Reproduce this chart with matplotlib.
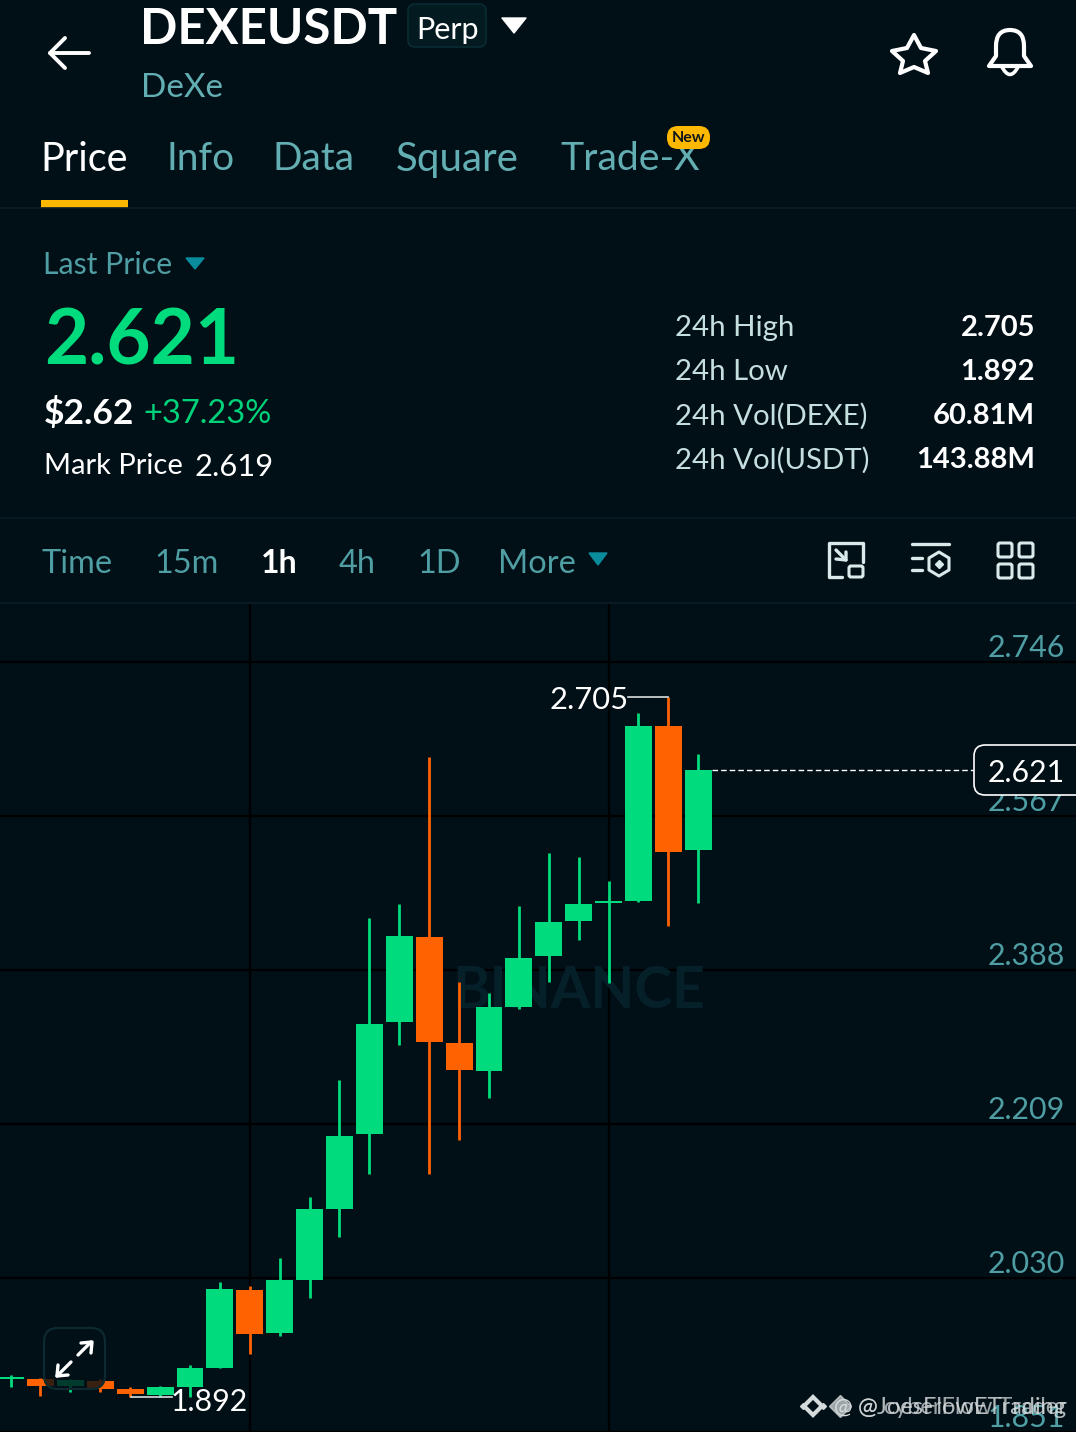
import matplotlib
matplotlib.use("Agg")
import matplotlib.pyplot as plt
from matplotlib.patches import FancyBboxPatch, Rectangle, Polygon
from matplotlib.path import Path
from matplotlib.patches import PathPatch

opens = [1.913, 1.913, 1.905, 1.910, 1.901, 1.894, 1.903, 1.925, 2.016, 1.966, 2.028, 2.110,
         2.197, 2.328, 2.426, 2.303, 2.271, 2.345, 2.404, 2.445, 2.466, 2.468, 2.672, 2.527]
closes = [1.915, 1.905, 1.912, 1.901, 1.895, 1.903, 1.925, 2.017, 1.965, 2.028, 2.110, 2.195,
          2.325, 2.428, 2.304, 2.272, 2.345, 2.402, 2.444, 2.465, 2.468, 2.672, 2.525, 2.621]
highs = [1.917, 1.914, 1.913, 1.913, 1.903, 1.904, 1.929, 2.025, 2.021, 2.053, 2.124, 2.260,
         2.448, 2.465, 2.636, 2.374, 2.361, 2.462, 2.524, 2.519, 2.491, 2.687, 2.705, 2.639]
lows = [1.903, 1.893, 1.898, 1.898, 1.892, 1.892, 1.892, 1.925, 1.942, 1.963, 2.007, 2.078,
        2.151, 2.301, 2.151, 2.190, 2.239, 2.343, 2.374, 2.423, 2.373, 2.467, 2.439, 2.466]
price_ticks = [2.746, 2.567, 2.388, 2.209, 2.030, 1.851]
time_grid = [8, 20]
last_price = 2.621
high_price = 2.705
low_price = 1.892
stats_labels = ["24h High", "24h Low", "24h Vol(DEXE)", "24h Vol(USDT)"]
stats_values = ["2.705", "1.892", "60.81M", "143.88M"]
tabs = ["Price", "Info", "Data", "Square", "Trade-X"]
intervals = ["Time", "15m", "1h", "4h", "1D", "More"]

BG = "#010f17"
GREEN = "#00dc7d"
ORANGE = "#ff6200"
TEAL = "#62aeb2"
WHITE = "#ffffff"
SEP = "#0a1e27"
FONT = "Lato"
W, H = 1076, 1432

plt.rcParams["font.family"] = [FONT, "DejaVu Sans"]
fig = plt.figure(figsize=(W / 100, H / 100), dpi=100, facecolor=BG)

# ---------- chart panel: price axis in real units ----------
top_px = 604
ax = fig.add_axes([0, 0, 1, (H - top_px) / H], facecolor=BG)
per_px = 0.179 / 154
ax.set_ylim(1.851, 2.746 + (662 - top_px) * per_px)
step = 29.9
ax.set_xlim(-10.6 / step, (W - 10.6) / step)
for s in ax.spines.values():
    s.set_visible(False)
ax.set_yticks(price_ticks)
ax.set_yticklabels([f"{p:.3f}" for p in price_ticks])
ax.set_xticks(time_grid)
ax.tick_params(axis="x", length=0, labelbottom=False)
ax.tick_params(axis="y", length=0, labelleft=False, labelright=True, pad=-8,
               labelsize=21.9, labelcolor="#4f9ea3")
for lab in ax.get_yticklabels():
    lab.set_ha("right")
    lab.set_va("bottom")
ax.grid(True, color="#000000", lw=1.6, zorder=0)
ax.set_axisbelow(True)
ax.text(579 / W, (H - 992) / (H - top_px), "BINANCE", transform=ax.transAxes, color="#06202a",
        fontsize=41, fontweight="bold", ha="center", va="center", zorder=1)

xs = list(range(len(opens)))
colors = [GREEN if c >= o else ORANGE for o, c in zip(opens, closes)]
ax.vlines(xs, lows, highs, colors=colors, lw=2.0, zorder=2)
ax.bar(xs, [max(abs(c - o), 0.0016) for o, c in zip(opens, closes)],
       bottom=[min(o, c) for o, c in zip(opens, closes)],
       width=0.9, color=colors, linewidth=0, zorder=3)

ax.plot([23.45, 32.2], [last_price, last_price], color=WHITE, lw=1.0, dashes=(4, 2.2), zorder=4)
ax.plot([20.65, 22], [high_price, high_price], color="#d8dedf", lw=1.2, zorder=4)
ax.plot([4.02, 5.4], [low_price, low_price], color="#d8dedf", lw=1.2, zorder=4)
ax.annotate(f"{high_price:.3f}", xy=(20.67, high_price), ha="right", va="center_baseline",
            color=WHITE, fontsize=22.2, zorder=5)
ax.annotate(f"{low_price:.3f}", xy=(5.45, low_price), xytext=(-2, -2), textcoords="offset points",
            ha="left", va="center_baseline", color=WHITE, fontsize=21.8, zorder=5)

# ---------- app chrome, in pixel coordinates ----------
ui = fig.add_axes([0, 0, 1, 1], facecolor="none")
ui.set_xlim(0, W)
ui.set_ylim(H, 0)
ui.axis("off")


def txt(x, y, s, size, color=TEAL, weight="normal", ha="left", **kw):
    return ui.text(x, y, s, fontsize=size, color=color, fontweight=weight, ha=ha,
                   va="center_baseline", **kw)


def line(pts, color=WHITE, lw=2.4, **kw):
    ui.plot([p[0] for p in pts], [p[1] for p in pts], color=color, lw=lw,
            solid_capstyle="round", solid_joinstyle="round", **kw)


def rbox(x0, y0, x1, y1, r, fc="none", ec=WHITE, lw=2.2, **kw):
    ui.add_patch(FancyBboxPatch((x0 + r, y0 + r), x1 - x0 - 2 * r, y1 - y0 - 2 * r,
                                boxstyle=f"round,pad={r},rounding_size={r}",
                                fc=fc, ec=ec, lw=lw, **kw))


for y in (208, 518, 603):
    ui.plot([0, W], [y, y], color=SEP, lw=1.2)

# header
line([(50, 53), (89, 53)], lw=2.8)
line([(65, 38), (50, 53), (65, 68)], lw=2.8)
txt(140, 26, "DEXEUSDT", 35.4, WHITE, "bold")
rbox(408, 4, 486, 47, 7, fc="#021a20", ec="#0a2b33", lw=1.2)
txt(416, 27, "Perp", 22, WHITE)
ui.add_patch(Polygon([(502, 18), (526, 18), (514, 33)], closed=True, fc=WHITE, ec=WHITE, lw=1, joinstyle="round"))
txt(141, 85, "DeXe", 24)
star = [(914, 35), (921, 48), (936, 51), (925, 61), (928, 73), (914, 67), (900, 73), (903, 61), (892, 51), (907, 48)]
ui.add_patch(Polygon(star, closed=True, fc="none", ec=WHITE, lw=3.0, joinstyle="round"))

# bell
bell = Path([(989, 66), (996, 56), (996, 46), (996, 30), (1010, 30), (1024, 30), (1024, 46),
             (1024, 56), (1031, 66), (989, 66)],
            [Path.MOVETO, Path.LINETO, Path.LINETO, Path.CURVE3, Path.CURVE3, Path.CURVE3, Path.CURVE3,
             Path.LINETO, Path.LINETO, Path.CLOSEPOLY])
ui.add_patch(PathPatch(bell, fc="none", ec=WHITE, lw=3.0, joinstyle="round"))
ui.add_patch(PathPatch(Path([(1002, 67), (1010, 82), (1018, 67)], [Path.MOVETO, Path.CURVE3, Path.CURVE3]),
                       fc="none", ec=WHITE, lw=2.6))

# tabs
tab_x = [40, 166, 273, 396, 560]
tab_size = [28.5, 28, 28, 29, 28.3]
for i, (x, s, z) in enumerate(zip(tab_x, tabs, tab_size)):
    txt(x, 156, s, z, WHITE if i == 0 else TEAL)
ui.add_patch(Rectangle((41, 200), 87, 8, fc="#ffb800", ec="none"))
rbox(667, 126, 710, 149, 11, fc="#ffb800", ec="none", lw=0, zorder=5)
txt(688.5, 137, "New", 11.5, "#10181c", "bold", ha="center", zorder=6)

# price block
txt(43, 263, "Last Price", 21.8, "#4f9ea3")
ui.add_patch(Polygon([(186, 258), (204, 258), (195, 269)], closed=True, fc="#0b8c9c", ec="#0b8c9c", lw=1))
txt(44, 336, "2.621", 55, GREEN, "bold")
txt(44, 410, "$2.62", 25.5, WHITE, "bold")
txt(143, 411, "+37.23%", 23.5, "#00d27a")
txt(44, 464, "Mark Price", 21, WHITE)
txt(195, 464, "2.619", 22.2, WHITE)
for y, a, b in zip((326, 370, 414, 458), stats_labels, stats_values):
    txt(675, y - 0.5, a, 21.2, "#c5dede")
    txt(1035, y - 0.5, b, 21, WHITE, "bold", ha="right")

# interval row
int_x = [42, 154, 261, 339, 417, 498]
for x, s in zip(int_x, intervals):
    if s == "1h":
        txt(x, 561, s, 23, WHITE, "bold")
    else:
        txt(x, 561, s, 23.4, "#4f9ea3")
ui.add_patch(Polygon([(589, 553), (607, 553), (598, 565)], closed=True, fc="#0b8c9c", ec="#0b8c9c", lw=1))

# toolbar icons
line([(842, 577), (829, 577), (829, 543), (863, 543), (863, 562)], "#d8eaea", 2.4)
rbox(849, 566, 863, 577, 2, ec="#d8eaea", lw=2.2)
line([(836, 550), (846, 560)], "#d8eaea", 2.4)
line([(836, 559), (846, 560), (846, 552)], "#d8eaea", 2.4)
line([(912, 544), (949, 544)], "#d8eaea", 2.4)
line([(912, 558), (922, 558)], "#d8eaea", 2.4)
line([(912, 570), (922, 570)], "#d8eaea", 2.4)
hexa = [(939, 552), (949, 558), (949, 570), (939, 576), (929, 570), (929, 558)]
ui.add_patch(Polygon(hexa, closed=True, fc="none", ec="#d8eaea", lw=2.2, joinstyle="round"))
ui.plot([939], [564], marker="D", ms=4, color="#d8eaea")
for x0, y0 in ((998, 543), (1019, 543), (998, 564), (1019, 564)):
    rbox(x0, y0, x0 + 14, y0 + 14, 2, ec="#d8eaea", lw=2.2)

# last price tag
rbox(974, 745, 1095, 795, 11, fc=BG, ec=WHITE, lw=1.2)
txt(988, 770, f"{last_price:.3f}", 21.8, WHITE)

# expand button
rbox(44, 1328, 105, 1389, 14, fc="#010f17c8", ec="#0c2a30", lw=1.6)
line([(78, 1355), (91, 1342)], lw=2.4)
line([(81, 1343), (92, 1342), (91, 1353)], lw=2.4)
line([(71, 1362), (57, 1376)], lw=2.4)
line([(58, 1365), (57, 1376), (68, 1375)], lw=2.4)

# attribution
wm = "#d5dadb"
ui.plot([813], [1406], marker="D", ms=9, mfc="none", mec=wm, mew=3)
ui.plot([803, 823], [1406, 1406], ls="none", marker="D", ms=3, color=wm)
ui.plot([840], [1406], marker="D", ms=11, mfc=wm, mec=wm, alpha=0.75)
txt(834, 1406, "@", 16, wm)
txt(858, 1406, "@JoesFlowETrading", 17, wm, alpha=0.85)
txt(858, 1406, "@ cyberFlow Trader", 17, wm, alpha=0.75)

fig.savefig("out.png", dpi=100, facecolor=BG)
